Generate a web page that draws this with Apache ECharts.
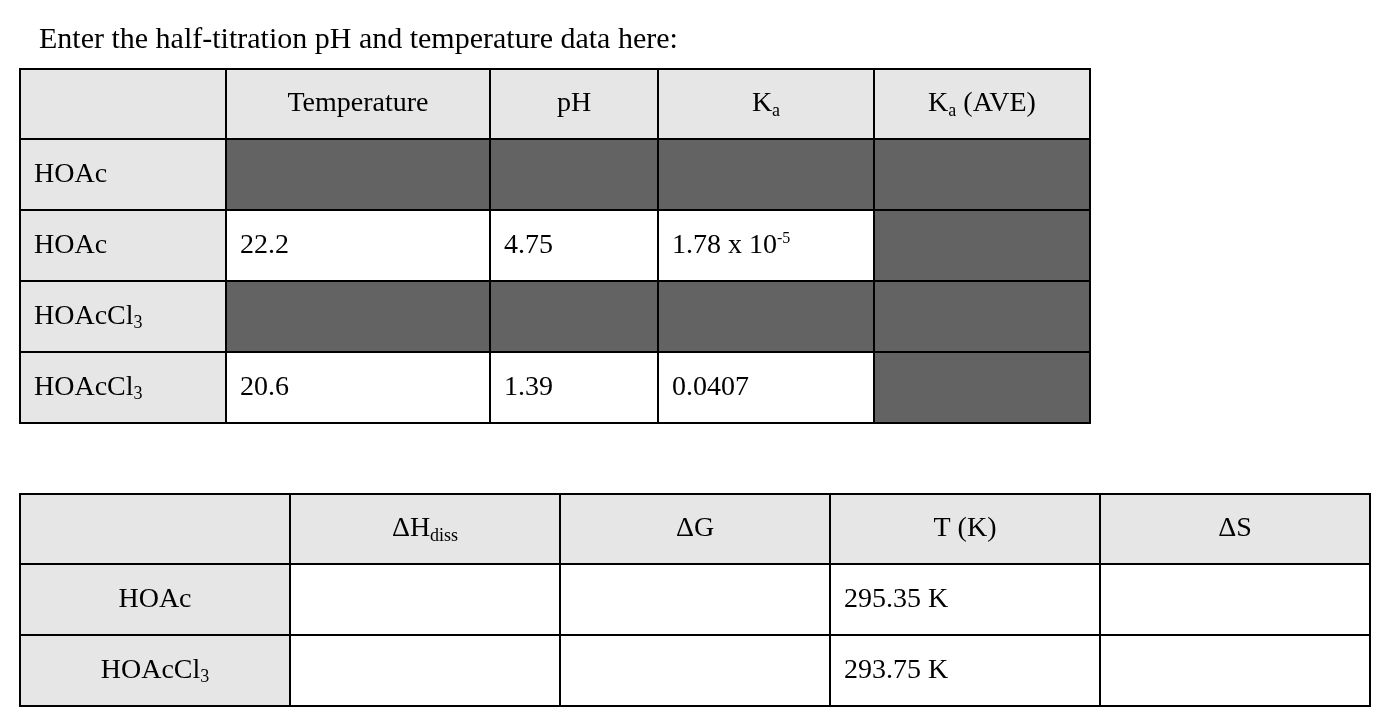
<!DOCTYPE html>
<html><head><meta charset="utf-8">
<script src="https://cdn.jsdelivr.net/npm/echarts@6/dist/echarts.min.js"></script>
<style>html,body{margin:0;background:#fff}#c{width:1386px;height:728px}</style>
</head><body><div id="c"></div>
<script>
// table 1: half-titration data
const title = 'Enter the half-titration pH and temperature data here:';
const t1Header = ['', 'Temperature', 'pH', 'K{sub|a}', 'K{sub|a} (AVE)'];
const t1Rows = [
  ['HOAc', null, null, null, null],
  ['HOAc', '22.2', '4.75', '1.78 x 10{sup|-5}', null],
  ['HOAcCl{sub|3}', null, null, null, null],
  ['HOAcCl{sub|3}', '20.6', '1.39', '0.0407', null]
];
// table 2: thermodynamics
const t2Header = ['', 'ΔH{sub|diss}', 'ΔG', 'T (K)', 'ΔS'];
const t2Rows = [
  ['HOAc', '', '', '295.35 K', ''],
  ['HOAcCl{sub|3}', '', '', '293.75 K', '']
];

// layout
const t1Cols = [20, 226, 490, 658, 874, 1090];
const t1RowY = [69, 139, 210, 281, 352, 423];
const t2Cols = [20, 290, 560, 830, 1100, 1370];
const t2RowY = [494, 564, 635, 706];
const LIGHT = '#e6e6e6', DARK = '#636363';

const cells = [];
function addTable(header, rows, cols, ys, leftBody, leftCols) {
  [header, ...rows].forEach((row, r) => {
    row.forEach((txt, c) => {
      let fill = '#fff';
      if (r === 0 || c === 0) fill = LIGHT;
      if (txt === null) fill = DARK;
      const align = (r > 0 && (leftBody || leftCols.includes(c))) ? 'left' : 'center';
      cells.push([cols[c], cols[c + 1], ys[r], ys[r + 1], fill, txt || '', align]);
    });
  });
}
addTable(t1Header, t1Rows, t1Cols, t1RowY, true, []);
addTable(t2Header, t2Rows, t2Cols, t2RowY, false, [3]);

const rich = {
  sub: { fontSize: 18, fontFamily: 'Liberation Serif', padding: [14, 0, 0, 0], fill: '#000' },
  sup: { fontSize: 16, fontFamily: 'Liberation Serif', padding: [0, 0, 14, 0], fill: '#000' }
};

const chart = echarts.init(document.getElementById('c'));
chart.setOption({
  animation: false,
  title: { text: title, left: 34, top: 20, textStyle: { fontFamily: 'Liberation Serif', fontSize: 30, fontWeight: 'normal', color: '#000' } },
  grid: { left: 0, right: 0, top: 0, bottom: 0 },
  xAxis: { type: 'value', min: 0, max: 1386, show: false },
  yAxis: { type: 'value', min: 0, max: 728, inverse: true, show: false },
  series: [{
    type: 'custom',
    data: cells,
    renderItem: (params, api) => {
      const d = cells[params.dataIndex];
      const p0 = api.coord([d[0], d[2]]), p1 = api.coord([d[1], d[3]]);
      const tx = d[6] === 'left' ? p0[0] + 14 : (p0[0] + p1[0]) / 2;
      return {
        type: 'group',
        children: [
          { type: 'rect', shape: { x: p0[0], y: p0[1], width: p1[0] - p0[0], height: p1[1] - p0[1] },
            style: { fill: d[4], stroke: '#000', lineWidth: 2 } },
          { type: 'text', z2: 10, style: { text: d[5], x: tx, y: (p0[1] + p1[1]) / 2, align: d[6], verticalAlign: 'middle',
            font: '28px "Liberation Serif"', fill: '#000', rich } }
        ]
      };
    }
  }]
});
</script></body></html>
